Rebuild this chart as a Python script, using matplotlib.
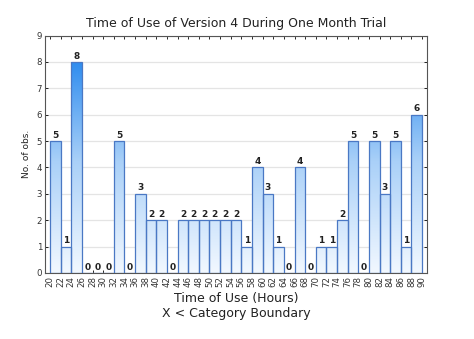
import numpy as np
import matplotlib
matplotlib.use('Agg')
import matplotlib.pyplot as plt
from matplotlib.colors import LinearSegmentedColormap

edges = list(range(20, 92, 2))
counts = [5, 1, 8, 0, 0, 0, 5, 0, 3, 2, 2, 0, 2, 2, 2, 2, 2, 2, 1,
          4, 3, 1, 0, 4, 0, 1, 1, 2, 5, 0, 5, 3, 5, 1, 6]

fig = plt.figure(figsize=(4.74, 3.39), dpi=100)
ax = fig.add_axes([0.095, 0.195, 0.806, 0.70])

cmap = LinearSegmentedColormap.from_list('g', ['#f2f8ff', '#a9d0f8', '#1f84ee'])
grad = np.linspace(0, 1, 256).reshape(-1, 1)

bars = ax.bar(edges[:-1], counts, width=2, align='edge',
              facecolor='none', edgecolor='#4a78c4', linewidth=0.9, zorder=3)
for b, c in zip(bars, counts):
    if c > 0:
        im = ax.imshow(grad, cmap=cmap, aspect='auto', origin='lower',
                       extent=[19, 91, 0, 8.5], zorder=2, vmin=0, vmax=1)
        im.set_clip_path(b)
    ax.text(b.get_x() + 1, c + 0.05, str(c), ha='center', va='bottom',
            fontsize=6.5, fontweight='bold', color='#222222', zorder=4)

ax.set_xlim(19.05, 90.95)
ax.set_ylim(0, 9)
ax.set_xticks(edges)
ax.set_xticklabels([str(e) for e in edges], rotation=90, fontsize=6.2, color='#333333')
ax.set_yticks(range(10))
ax.set_yticklabels([str(i) for i in range(10)], fontsize=6.2, color='#333333')
ax.tick_params(axis='both', direction='in', length=2.5, width=0.6,
               top=True, right=True, pad=2)
ax.grid(axis='y', color='#e4e4e4', linewidth=0.9, zorder=0)
ax.set_axisbelow(True)
for s in ax.spines.values():
    s.set_color('#555555')
    s.set_linewidth(0.8)

ax.set_title('Time of Use of Version 4 During One Month Trial', fontsize=9, pad=6, color='#222222')
ax.set_xlabel('Time of Use (Hours)\nX < Category Boundary', fontsize=9, color='#222222', labelpad=4)
ax.set_ylabel('No. of obs.', fontsize=6.5, color='#222222', labelpad=4)

fig.savefig('out.png', dpi=100)
